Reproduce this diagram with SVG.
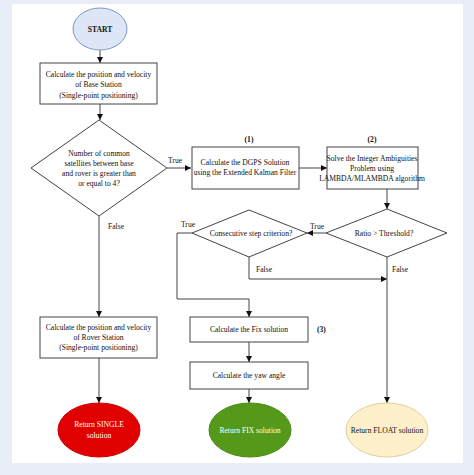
<svg xmlns="http://www.w3.org/2000/svg" width="474" height="475" viewBox="0 0 474 475">
<defs>
<marker id="ah" viewBox="0 0 10 10" refX="10" refY="5" markerWidth="6" markerHeight="6" orient="auto" markerUnits="userSpaceOnUse">
<path d="M0,0 L10,5 L0,10 z" fill="#111"/>
</marker>
</defs>
<style>
.box{fill:#fff;stroke:#444;stroke-width:1}
.dia{fill:#fff;stroke:#444;stroke-width:1}
.t{font-family:"Liberation Serif","Times New Roman",serif;font-size:7.6px;fill:#111;text-anchor:middle}
.lb{font-family:"Liberation Serif","Times New Roman",serif;font-size:7.6px;fill:#111}
.b{font-weight:bold}
.w{fill:#fff}
.c{fill:none;stroke:#444;stroke-width:1}
.ca{fill:none;stroke:#444;stroke-width:1;marker-end:url(#ah)}
</style>
<rect x="0" y="0" width="474" height="475" fill="#e9edf8"/>
<rect x="12" y="4" width="451" height="459" fill="#fff"/>

<g id="connectors">
<line class="ca" x1="100" y1="50" x2="100" y2="63"/>
<line class="ca" x1="100" y1="104" x2="100" y2="120"/>
<line class="ca" x1="167" y1="168" x2="191" y2="168"/>
<line class="ca" x1="99" y1="216" x2="99" y2="317"/>
<line class="ca" x1="99" y1="358" x2="99" y2="403"/>
<line class="ca" x1="299" y1="168" x2="327" y2="168"/>
<line class="ca" x1="387" y1="189" x2="387" y2="209"/>
<line class="ca" x1="326" y1="233" x2="307" y2="233"/>
<polyline class="c" points="192,233 177,233 177,299 249,299"/>
<line class="ca" x1="249" y1="299" x2="249" y2="317"/>
<polyline class="ca" points="249,257 249,279 387,279"/>
<line class="ca" x1="387" y1="257" x2="387" y2="403"/>
<line class="ca" x1="249" y1="342" x2="249" y2="362"/>
<line class="ca" x1="249" y1="389" x2="249" y2="403"/>
<text class="lb" x="168" y="163">True</text>
<text class="lb" x="108" y="229">False</text>
<text class="lb" x="310" y="229">True</text>
<text class="lb" x="181" y="227">True</text>
<text class="lb" x="256" y="272">False</text>
<text class="lb" x="392" y="272">False</text>
</g>

<g id="start">
<ellipse cx="100" cy="29" rx="27" ry="21" fill="#dce6f5" stroke="#7e98c4" stroke-width="1"/>
<text class="t b" x="100" y="32">START</text>
</g>

<g id="base">
<rect class="box" x="40" y="63" width="117" height="41"/>
<text class="t" x="98.5" y="77">Calculate the position and velocity</text>
<text class="t" x="98.5" y="87">of Base Station</text>
<text class="t" x="98.5" y="98">(Single-point positioning)</text>
</g>

<g id="sats">
<polygon class="dia" points="99,120 167,168 99,216 31,168"/>
<text class="t" x="99" y="156">Number of common</text>
<text class="t" x="99" y="166">satellites between base</text>
<text class="t" x="99" y="176">and rover is greater than</text>
<text class="t" x="99" y="186">or equal to 4?</text>
</g>

<g id="dgps">
<text class="t b" x="249" y="142">(1)</text>
<rect class="box" x="192" y="147" width="107" height="42"/>
<text class="t" x="245" y="165">Calculate the DGPS Solution</text>
<text class="t" x="245" y="175">using the Extended Kalman Filter</text>
</g>

<g id="lambda">
<text class="t b" x="372" y="142">(2)</text>
<rect class="box" x="327" y="147" width="91" height="42"/>
<text class="t" x="372" y="161">Solve the Integer Ambiguities</text>
<text class="t" x="372" y="171">Problem using</text>
<text class="t" x="372" y="181">LAMBDA/MLAMBDA algorithm</text>
</g>

<g id="ratio">
<polygon class="dia" points="387,209 447,233 387,257 326,233"/>
<text class="t" x="384" y="236">Ratio &gt; Threshold?</text>
</g>

<g id="consec">
<polygon class="dia" points="249,210 307,233 249,257 192,233"/>
<text class="t" x="251" y="236">Consecutive step criterion?</text>
</g>

<g id="fix">
<rect class="box" x="190" y="317" width="118" height="25"/>
<text class="t" x="249" y="332">Calculate the Fix solution</text>
<text class="lb b" x="317" y="332">(3)</text>
</g>

<g id="yaw">
<rect class="box" x="190" y="362" width="118" height="27"/>
<text class="t" x="249" y="378">Calculate the yaw angle</text>
</g>

<g id="rover">
<rect class="box" x="40" y="317" width="117" height="41"/>
<text class="t" x="98.5" y="330">Calculate the position and velocity</text>
<text class="t" x="98.5" y="340">of Rover Station</text>
<text class="t" x="98.5" y="350">(Single-point positioning)</text>
</g>

<g id="single">
<ellipse cx="99" cy="430" rx="41" ry="27" fill="#e00000" stroke="#c00" stroke-width="1"/>
<text class="t w" x="99" y="427">Return SINGLE</text>
<text class="t w" x="99" y="438">solution</text>
</g>

<g id="fixsol">
<ellipse cx="250" cy="430" rx="41" ry="27" fill="#55991a" stroke="#4a8a16" stroke-width="1"/>
<text class="t w" x="250" y="433">Return FIX solution</text>
</g>

<g id="floatsol">
<ellipse cx="387" cy="430" rx="41" ry="27" fill="#fdf0cb" stroke="#e2cf98" stroke-width="1"/>
<text class="t" x="387" y="433">Return FLOAT solution</text>
</g>
</svg>
